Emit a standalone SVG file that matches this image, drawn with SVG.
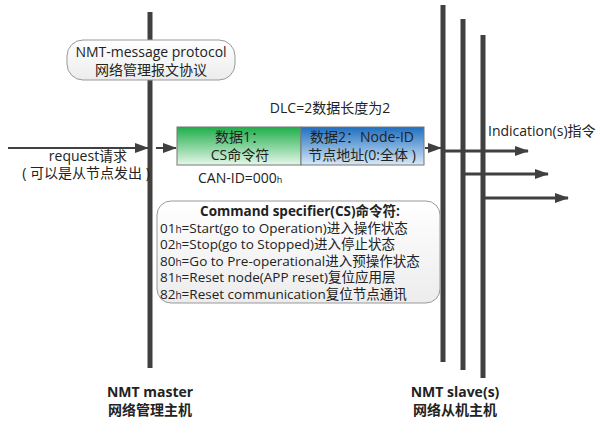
<svg xmlns="http://www.w3.org/2000/svg" width="600" height="433" viewBox="0 0 600 433">
<defs>
<marker id="ah" markerWidth="14" markerHeight="10" refX="13" refY="5" orient="auto" markerUnits="userSpaceOnUse"><path d="M0,0 L14,5 L0,10 Z" fill="#404040"/></marker>
<linearGradient id="gg" x1="0" y1="0" x2="0" y2="1"><stop offset="0" stop-color="#1fae4a"/><stop offset="1" stop-color="#e6f7ea"/></linearGradient>
<linearGradient id="bg" x1="0" y1="0" x2="0" y2="1"><stop offset="0" stop-color="#1e6fc0"/><stop offset="1" stop-color="#d8e8f7"/></linearGradient>
<linearGradient id="wg" x1="0" y1="0" x2="0" y2="1"><stop offset="0" stop-color="#ffffff"/><stop offset="1" stop-color="#ececec"/></linearGradient>
</defs>
<style>
text{font-family:"Open Sans","Noto Sans CJK SC",sans-serif;fill:#222;font-size:14px}
.b{font-weight:bold}
.c{font-size:13.5px}
.ln{stroke:#404040;fill:none}
</style>
<rect width="600" height="433" fill="#fff"/>
<g id="lifelines">
<line class="ln" x1="150" y1="12" x2="150" y2="368" stroke-width="5"/>
<line class="ln" x1="443" y1="5" x2="443" y2="362" stroke-width="5"/>
<line class="ln" x1="463" y1="19" x2="463" y2="370" stroke-width="5"/>
<line class="ln" x1="483" y1="35" x2="483" y2="378" stroke-width="5"/>
</g>
<g id="connectors">
<line class="ln" x1="8" y1="148" x2="148" y2="148" stroke-width="2" marker-end="url(#ah)"/>
<line class="ln" x1="156" y1="148" x2="176" y2="148" stroke-width="2" marker-end="url(#ah)"/>
<line class="ln" x1="425" y1="148" x2="441" y2="148" stroke-width="2" marker-end="url(#ah)"/>
<line class="ln" x1="443" y1="151" x2="528" y2="151" stroke-width="3" marker-end="url(#ah)"/>
<line class="ln" x1="463" y1="174" x2="548" y2="174" stroke-width="3" marker-end="url(#ah)"/>
<line class="ln" x1="483" y1="198" x2="568" y2="198" stroke-width="3" marker-end="url(#ah)"/>
</g>
<g id="protocol">
<rect x="67" y="40" width="168" height="40" rx="16" fill="url(#wg)" stroke="#999"/>
<text x="151" y="57" text-anchor="middle">NMT-message protocol</text>
<text x="151" y="75" text-anchor="middle">网络管理报文协议</text>
</g>
<g id="dlc"><text x="330" y="113" text-anchor="middle">DLC=2数据长度为2</text></g>
<g id="data1">
<rect x="177" y="127" width="124" height="38" fill="url(#gg)" stroke="#777"/>
<text x="240" y="142" text-anchor="middle" fill="#fff">数据1：</text>
<text x="240" y="160" text-anchor="middle">CS命令符</text>
</g>
<g id="data2">
<rect x="301" y="127" width="123" height="38" fill="url(#bg)" stroke="#777"/>
<text x="362" y="142" text-anchor="middle" fill="#fff">数据2：Node-ID</text>
<text x="362" y="160" text-anchor="middle">节点地址(0:全体 )</text>
</g>
<g id="canid"><text x="198" y="183">CAN-ID=000<tspan font-size="9">h</tspan></text></g>
<g id="request">
<text x="88" y="161" text-anchor="middle">request请求</text>
<text x="86" y="178" text-anchor="middle">( 可以是从节点发出 )</text>
</g>
<g id="indication"><text x="488" y="136">Indication(s)指令</text></g>
<g id="cs">
<rect x="157" y="201" width="283" height="102" rx="14" fill="url(#wg)" stroke="#999"/>
<text x="300" y="216" text-anchor="middle" class="b c">Command specifier(CS)命令符:</text>
<text class="c" x="160" y="232.5">01<tspan font-size="10">h</tspan>=Start(go to Operation)进入操作状态</text>
<text class="c" x="160" y="249">02<tspan font-size="10">h</tspan>=Stop(go to Stopped)进入停止状态</text>
<text class="c" x="160" y="265.5">80<tspan font-size="10">h</tspan>=Go to Pre-operational进入预操作状态</text>
<text class="c" x="160" y="282">81<tspan font-size="10">h</tspan>=Reset node(APP reset)复位应用层</text>
<text class="c" x="160" y="298.5">82<tspan font-size="10">h</tspan>=Reset communication复位节点通讯</text>
</g>
<g id="master">
<text x="150" y="397" text-anchor="middle" class="b">NMT master</text>
<text x="150" y="415" text-anchor="middle" class="b">网络管理主机</text>
</g>
<g id="slave">
<text x="455" y="397" text-anchor="middle" class="b">NMT slave(s)</text>
<text x="455" y="415" text-anchor="middle" class="b">网络从机主机</text>
</g>
</svg>
